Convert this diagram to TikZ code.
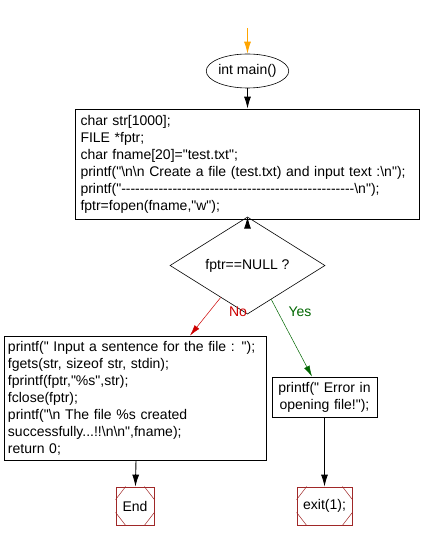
\documentclass[tikz,border=0pt]{standalone}
\usepackage{fontspec}
\setmainfont{Liberation Sans}[Ligatures=TeXOff]
\usetikzlibrary{shapes.geometric,arrows.meta}
\definecolor{startorange}{RGB}{255,165,0}
\definecolor{termred}{RGB}{160,40,40}
\definecolor{nored}{RGB}{204,0,0}
\definecolor{yesgreen}{RGB}{0,102,0}
\newcommand\chamfer[1]{%
\draw[termred, line width=0.5pt] ([xshift=10pt]#1.north west) -- ([yshift=-13pt]#1.north west)
  ([yshift=13pt]#1.south west) -- ([xshift=10pt]#1.south west)
  ([xshift=-10pt]#1.south east) -- ([yshift=13pt]#1.south east)
  ([yshift=-13pt]#1.north east) -- ([xshift=-10pt]#1.north east);}

\begin{document}
\begin{tikzpicture}[x=1pt,y=-1pt]

\tikzstyle{every node}=[font=\fontsize{14}{17}\selectfont]
\tikzstyle{codebox}=[draw, line width=0.8pt, align=left, inner ysep=0pt]
\tikzstyle{terminal}=[draw=termred, line width=0.8pt, minimum height=38pt, inner sep=0pt]
\tikzstyle{flow}=[->, >={Latex[length=12pt,width=7pt]}, line width=0.9pt]

\useasboundingbox (0,0) rectangle (421,540);

\pgfmathsetmacro\x{247.5}
\pgfmathsetmacro\y{28}

\coordinate (start) at (\x, \y);

\pgfmathsetmacro\y{\y+43}
\node[draw, ellipse, line width=0.6pt, minimum width=81pt, minimum height=34pt, inner sep=0pt] (main) at (\x, \y) {int main()};

\draw[flow, startorange] (start) -- (main);

\pgfmathsetmacro\y{\y+93}
\node[codebox, text width=334pt, inner xsep=5pt, minimum height=110pt] (declare) at (\x, \y)
{char str[1000];\\
FILE *fptr;\\
char fname[20]="test.txt";\\
printf("\textbackslash n\textbackslash n Create a file (test.txt) and input text :\textbackslash n");\\
printf("--------------------------------------------------\textbackslash n");\\
fptr=fopen(fname,"w");};

\draw[flow] (main) -- (declare);

\pgfmathsetmacro\y{\y+101.5}
\node[draw, diamond, line width=0.6pt, minimum width=155pt, minimum height=45pt, inner sep=0pt] (isnull) at (\x, \y) {fptr==NULL ?};

\draw[flow] (declare) -- (isnull);

\node[codebox, text width=254pt, inner xsep=4pt, minimum height=124pt] (write) at (135, 398)
{printf(" Input a sentence for the file : ");\\
fgets(str, sizeof str, stdin);\\
fprintf(fptr,"\%s",str);\\
fclose(fptr);\\
printf("\textbackslash n The file \%s created\\
successfully...!!\textbackslash n\textbackslash n",fname);\\
return 0;};

\node[codebox, align=center, text width=97pt, inner xsep=4pt, minimum height=40pt] (error) at (324.5, 397)
{printf(" Error in\\ opening file!");};

\draw[->, >={Latex[length=11pt,width=6pt]}, nored, line width=0.5pt] (isnull.230) -- ([xshift=55pt]write.north);
\node[text=nored] (no) at (238, 312) {No};

\draw[->, >={Latex[length=11pt,width=6pt]}, yesgreen, line width=0.5pt] (isnull.305) -- ([xshift=-12.5pt]error.north);
\node[text=yesgreen] (yes) at (300, 312) {Yes};

\pgfmathsetmacro\y{506}
\node[terminal, minimum width=38pt] (end) at (135, \y) {End};
\chamfer{end}

\node[terminal, minimum width=55pt] (exit) at (324.5, \y) {exit(1);};
\chamfer{exit}

\draw[flow] (write.south) ++(1,0) -- (end);
\draw[flow] (error) -- (exit);

\end{tikzpicture}
\end{document}
